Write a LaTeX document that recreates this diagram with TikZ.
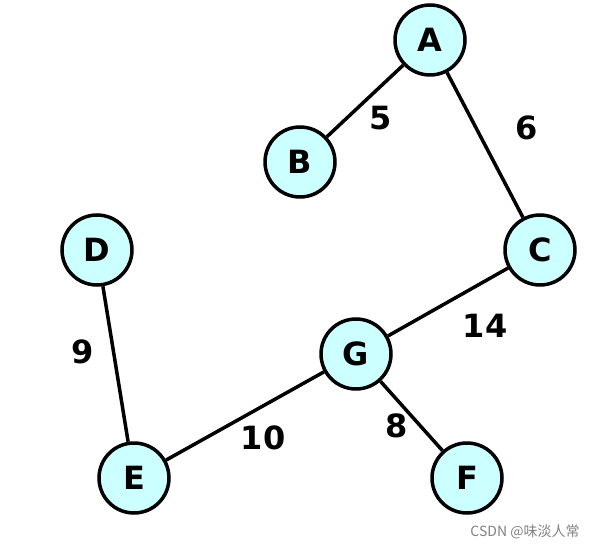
\documentclass[tikz,border=0pt]{standalone}
\usepackage{fontspec}
\setmainfont{DejaVu Sans}
\newfontfamily\cjk{Noto Sans CJK SC}
\definecolor{nodefill}{HTML}{CCFFFF}
\begin{document}
\begin{tikzpicture}[x=1pt,y=-1pt,
  v/.style={circle,draw=black,line width=3.5pt,fill=nodefill,minimum size=70pt,inner sep=0pt,font=\fontsize{32}{32}\selectfont\bfseries},
  e/.style={line width=3.5pt},
  w/.style={font=\fontsize{32}{32}\selectfont\bfseries}]
\useasboundingbox (0,0) rectangle (610,553);
\node[v] (A) at (430,40) {A};
\node[v] (B) at (300,162) {B};
\node[v] (C) at (540,250) {C};
\node[v] (D) at (97,250) {D};
\node[v] (G) at (356,354) {G};
\node[v] (E) at (134,478) {E};
\node[v] (F) at (467,478) {F};
\draw[e] (A) -- (B);
\draw[e] (A) -- (C);
\draw[e] (C) -- (G);
\draw[e] (D) -- (E);
\draw[e] (G) -- (E);
\draw[e] (G) -- (F);
\node[w] (l5) at (381,118) {5};
\node[w] (l6) at (527,128) {6};
\node[w] (l9) at (83,352) {9};
\node[w] (l14) at (485,326) {14};
\node[w] (l10) at (263,438) {10};
\node[w] (l8) at (397,426) {8};
\node[font=\cjk\fontsize{14}{14}\selectfont,text=gray] (wm) at (525,532) {CSDN @味淡人常};
\end{tikzpicture}
\end{document}
